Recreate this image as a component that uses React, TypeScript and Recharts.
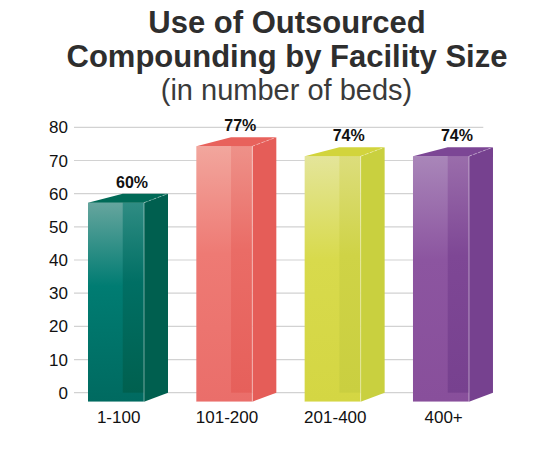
import React from 'react';
import { BarChart, Bar, XAxis, YAxis, CartesianGrid, LabelList } from 'recharts';

// facility size buckets (number of beds) and share using outsourced compounding
const sizes = ['1-100', '101-200', '201-400', '400+'];
const shares = [60, 77, 74, 74];
const yTicks = [0, 10, 20, 30, 40, 50, 60, 70, 80];

const FONT = '"Liberation Sans", Arial, Helvetica, sans-serif';

// per-bar shading for the faux 3D boxes
const PALETTE = [
  { frontTop: '#66a59e', front: '#007c72', frontBottom: '#006a60', stripTop: '#2f8c83', strip: '#006f64', stripBottom: '#00604f', side: '#005f4f', top: '#006a57' },
  { frontTop: '#f2a69d', front: '#ee7a74', frontBottom: '#ea6e6a', stripTop: '#ee9189', strip: '#ea6c66', stripBottom: '#e6605b', side: '#e55d58', top: '#e8625c' },
  { frontTop: '#e4e59a', front: '#d8da4c', frontBottom: '#d4d643', stripTop: '#dcdd7c', strip: '#cfd346', stripBottom: '#cacf40', side: '#c9d03f', top: '#d2d43c' },
  { frontTop: '#a986b9', front: '#8c55a0', frontBottom: '#884f9b', stripTop: '#9a6dab', strip: '#7e4795', stripBottom: '#77418f', side: '#76418f', top: '#7c4695' },
];

const DEPTH_X = 24;
const DEPTH_Y = 9;

const data = sizes.map((name, i) => ({ name, value: shares[i] }));

function Box3D(props: any) {
  const { x, y, width, height, index } = props;
  const c = PALETTE[index % PALETTE.length];
  const fl = x;
  const fr = x + width;
  const ft = y + DEPTH_Y;
  const fb = y + height + DEPTH_Y;
  const bl = x + width * 0.62;
  const br = fr + DEPTH_X;
  const bt = y;
  const bb = y + height;
  const gf = `front-${index}`;
  const gs = `strip-${index}`;
  return (
    <g>
      <defs>
        <linearGradient id={gf} x1="0" y1="0" x2="0" y2="1">
          <stop offset="0" stopColor={c.frontTop} />
          <stop offset="0.42" stopColor={c.front} />
          <stop offset="1" stopColor={c.frontBottom} />
        </linearGradient>
        <linearGradient id={gs} x1="0" y1="0" x2="0" y2="1">
          <stop offset="0" stopColor={c.stripTop} />
          <stop offset="0.42" stopColor={c.strip} />
          <stop offset="1" stopColor={c.stripBottom} />
        </linearGradient>
      </defs>
      <polygon points={`${fr},${ft} ${br},${bt} ${br},${bb} ${fr},${fb}`} fill={c.side} />
      <rect x={fl} y={ft} width={fr - fl} height={fb - ft} fill={`url(#${gf})`} />
      <rect x={bl} y={ft} width={fr - bl} height={bb - ft} fill={`url(#${gs})`} />
      <polygon points={`${fl},${ft} ${bl},${bt} ${br},${bt} ${fr},${ft}`} fill={c.top} />
      <line x1={fr} y1={ft} x2={fr} y2={fb} stroke="#ffffff" strokeOpacity={0.45} strokeWidth={1} />
      <line x1={fr} y1={ft} x2={br} y2={bt} stroke="#ffffff" strokeOpacity={0.35} strokeWidth={1} strokeDasharray="3 2" />
      <line x1={fl} y1={fb} x2={fr} y2={fb} stroke="#ffffff" strokeOpacity={0.25} strokeWidth={1} />
    </g>
  );
}

function gridLine(props: any) {
  const { x1, x2, y1, y2, key } = props;
  return (
    <line key={key} x1={x1 + 12} x2={x2 - 12} y1={y1} y2={y2} stroke="#d2d2d2" strokeWidth={1.2} />
  );
}

function YTick(props: any) {
  const { x, y, payload } = props;
  return (
    <text x={x + 6} y={y} dy="0.36em" textAnchor="end" fontFamily={FONT} fontSize={17} fill="#111">
      {payload.value}
    </text>
  );
}

function XTick(props: any) {
  const { x, y, payload } = props;
  return (
    <text x={x + 2.5} y={y + 30.3} textAnchor="middle" fontFamily={FONT} fontSize={17} fill="#111">
      {payload.value}
    </text>
  );
}

function ValueLabel(props: any) {
  const { x, y, width, value } = props;
  return (
    <text x={x + width / 2 + 16} y={y - 6} textAnchor="middle" fontFamily={FONT} fontSize={16} fontWeight="bold" fill="#111">
      {`${value}%`}
    </text>
  );
}

export default function App() {
  return (
    <div style={{ position: 'absolute', left: 0, top: 0, width: 550, height: 452, background: '#fff' }}>
      <svg width={550} height={110} style={{ position: 'absolute', left: 0, top: 0 }}>
        <text x={287} y={33.3} textAnchor="middle" fontFamily={FONT} fontSize={31} fontWeight="bold" fill="#2e2e2e">
          Use of Outsourced
        </text>
        <text x={287} y={66.7} textAnchor="middle" fontFamily={FONT} fontSize={31} fontWeight="bold" fill="#2e2e2e">
          Compounding by Facility Size
        </text>
        <text x={286.5} y={100} textAnchor="middle" fontFamily={FONT} fontSize={29} fill="#3a3a3a">
          (in number of beds)
        </text>
      </svg>
      <div style={{ position: 'absolute', left: 0, top: 0 }}>
        <BarChart
          width={550}
          height={452}
          data={data}
          margin={{ top: 127.3, right: 54.7, bottom: 29.3, left: 0 }}
        >
          <CartesianGrid vertical={false} horizontal={gridLine} />
          <XAxis
            dataKey="name"
            height={30}
            axisLine={false}
            tickLine={false}
            tickSize={0}
            tickMargin={0}
            tick={<XTick />}
            interval={0}
          />
          <YAxis
            width={62}
            domain={[0, 80]}
            ticks={yTicks}
            axisLine={false}
            tickLine={false}
            tickSize={0}
            tickMargin={0}
            tick={<YTick />}
            interval={0}
          />
          <Bar dataKey="value" barSize={56} shape={<Box3D />} isAnimationActive={false}>
            <LabelList dataKey="value" content={<ValueLabel />} />
          </Bar>
        </BarChart>
      </div>
    </div>
  );
}
